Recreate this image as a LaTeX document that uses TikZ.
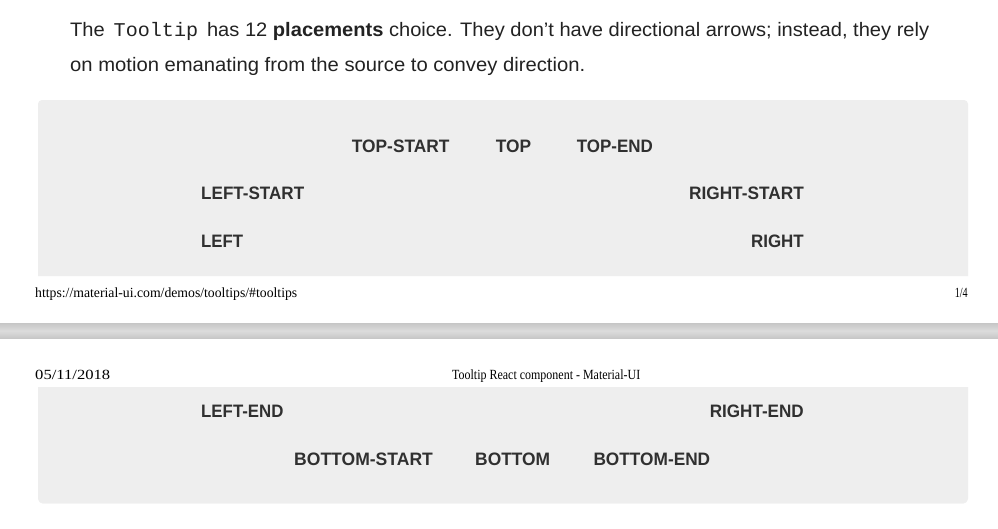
\documentclass[tikz,border=0pt]{standalone}
\usepackage{fontspec}
\usepackage{graphicx}
\setmainfont{Liberation Sans}
\newfontfamily\serifft{Liberation Serif}
\newfontfamily\monoft{Liberation Mono}
\newcommand\fitw[2]{\resizebox{#1}{\height}{#2}}
\definecolor{panelgray}{HTML}{EEEEEE}
\definecolor{textdark}{HTML}{222222}
\definecolor{labeldark}{HTML}{303030}
\definecolor{banddark}{HTML}{C6C6C6}
\definecolor{bandlight}{HTML}{DCDCDC}
\tikzset{
  para/.style={font=\fontsize{19.5pt}{23pt}\selectfont, text=textdark, inner sep=0pt},
  lbl/.style={font=\fontsize{18pt}{22pt}\selectfont\bfseries, text=labeldark, inner sep=0pt},
  foot/.style={font=\serifft\fontsize{14pt}{17pt}\selectfont, text=black, inner sep=0pt},
  panel/.style={fill=panelgray}
}
\begin{document}
\begin{tikzpicture}[x=1pt,y=-1pt]
\useasboundingbox (0,0) rectangle (998,528);
\fill[white] (0,0) rectangle (998,528);

% paragraph
\node[para, anchor=base west] (p1) at (70,36.5)
  {\fitw{859pt}{The \,{\monoft Tooltip}\, has 12 \textbf{placements} choice. They don’t have directional arrows; instead, they rely}};
\node[para, anchor=base west] (p2) at (70,71)
  {\fitw{515pt}{on motion emanating from the source to convey direction.}};

% upper panel
\fill[panel] (38,276) {[rounded corners=4pt] -- (38,100) -- (968,100)} -- (968,276) -- cycle;

\node[lbl, anchor=base west] (ts) at (351.7,152) {\fitw{97.6pt}{TOP-START}};
\node[lbl, anchor=base west] (t)  at (495.7,152) {\fitw{35.3pt}{TOP}};
\node[lbl, anchor=base west] (te) at (576.7,152) {\fitw{76pt}{TOP-END}};
\node[lbl, anchor=base west] (ls) at (201,199) {\fitw{103pt}{LEFT-START}};
\node[lbl, anchor=base east] (rs) at (804,199) {\fitw{114.7pt}{RIGHT-START}};
\node[lbl, anchor=base west] (l)  at (201,247) {\fitw{42pt}{LEFT}};
\node[lbl, anchor=base east] (r)  at (804,247) {\fitw{52.7pt}{RIGHT}};

% page footer
\node[foot, anchor=base west] (url) at (35,297) {\fitw{262pt}{https://material-ui.com/demos/tooltips/\#tooltips}};
\node[foot, anchor=base east] (pg) at (968,297) {\fitw{13pt}{1/4}};

% page separator band
\shade[top color=banddark, bottom color=banddark, middle color=bandlight] (0,323) rectangle (998,338.5);

% next page header
\node[foot, anchor=base west] (date) at (35,379) {\fitw{75pt}{05/11/2018}};
\node[foot, anchor=base west] (title) at (452,379) {\fitw{188pt}{Tooltip React component - Material-UI}};

% lower panel
\fill[black!6] (38.5,387) {[rounded corners=4pt] -- (38.5,503.5) -- (967.5,503.5)} -- (967.5,387) -- cycle;
\fill[panel] (38,387) {[rounded corners=4pt] -- (38,502.5) -- (968,502.5)} -- (968,387) -- cycle;

\node[lbl, anchor=base west] (le) at (201,417.5) {\fitw{82.3pt}{LEFT-END}};
\node[lbl, anchor=base east] (re) at (804,417.5) {\fitw{94pt}{RIGHT-END}};
\node[lbl, anchor=base west] (bs) at (294,465.5) {\fitw{138.7pt}{BOTTOM-START}};
\node[lbl, anchor=base west] (b)  at (475,465.5) {\fitw{75pt}{BOTTOM}};
\node[lbl, anchor=base west] (be) at (593.3,465.5) {\fitw{116.7pt}{BOTTOM-END}};
\end{tikzpicture}
\end{document}
